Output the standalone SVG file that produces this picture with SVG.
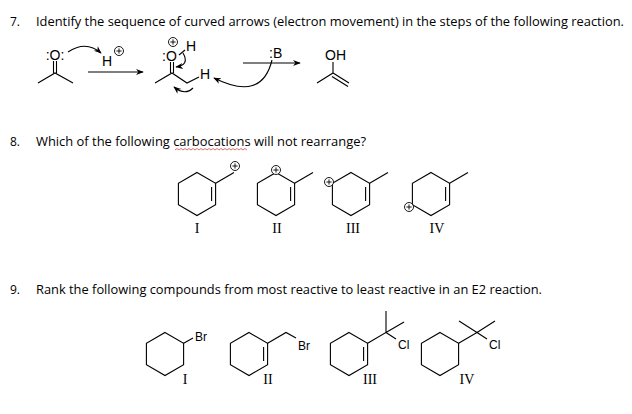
<svg xmlns="http://www.w3.org/2000/svg" width="632" height="414" viewBox="0 0 632 414">
<style>
.q{font-family:"Open Sans","Liberation Sans",sans-serif;font-size:12px;fill:#000}
.a{font-family:"Liberation Sans",Arial,sans-serif;font-size:12px;fill:#000}
.t{font-family:"Liberation Sans",Arial,sans-serif;font-size:14px;fill:#000}
.r{font-family:"Liberation Serif","Times New Roman",serif;font-size:14px;fill:#000;text-anchor:middle}
.b{fill:none;stroke:#000;stroke-width:1.1}
.pl{fill:#fff;stroke:#000;stroke-width:0.9}
</style>
<defs>
<marker id="ah" viewBox="0 0 10 10" refX="9" refY="5" markerWidth="7" markerHeight="7" orient="auto"><path d="M0,1 L10,5 L0,9 L3,5 Z" fill="#000"/></marker>
<polygon id="hex" class="b" points="0,-21.5 18.6,-10.75 18.6,10.75 0,21.5 -18.6,10.75 -18.6,-10.75"/>
<line id="db" class="b" x1="14.6" y1="-7" x2="14.6" y2="7"/>
<g id="plus"><circle class="pl" r="4.5"/><path d="M-2.6,0 H2.6 M0,-2.6 V2.6" stroke="#000" stroke-width="0.9"/></g>
</defs>
<rect width="632" height="414" fill="#fff"/>
<text class="q" x="10" y="26">7.</text>
<text class="q" x="36" y="26" textLength="588" lengthAdjust="spacingAndGlyphs">Identify the sequence of curved arrows (electron movement) in the steps of the following reaction.</text>
<text class="q" x="10" y="146">8.</text>
<text class="q" x="36" y="146" textLength="330" lengthAdjust="spacingAndGlyphs">Which of the following carbocations will not rearrange?</text>
<path d="M175,150 l2,-1.5 l2,1.5 l2,-1.5 l2,1.5 l2,-1.5 l2,1.5 l2,-1.5 l2,1.5 l2,-1.5 l2,1.5 l2,-1.5 l2,1.5 l2,-1.5 l2,1.5 l2,-1.5 l2,1.5 l2,-1.5 l2,1.5 l2,-1.5 l2,1.5 l2,-1.5 l2,1.5 l2,-1.5 l2,1.5 l2,-1.5 l2,1.5 l2,-1.5 l2,1.5 l2,-1.5 l2,1.5 l2,-1.5 l2,1.5 l2,-1.5 l2,1.5 l2,-1.5 l2,1.5" fill="none" stroke="#c33" stroke-width="0.7"/>
<text class="q" x="10" y="294">9.</text>
<text class="q" x="36" y="294" textLength="506" lengthAdjust="spacingAndGlyphs">Rank the following compounds from most reactive to least reactive in an E2 reaction.</text>

<g id="reaction7">
<path class="b" d="M38,83 L55,73 L73,83 M53.5,73 V61 M56.5,73 V61"/>
<text class="t" x="55" y="60" text-anchor="middle">:O:</text>
<path class="b" d="M68,52 Q86,40 101,53" marker-end="url(#ah)"/>
<text class="t" x="102" y="66">H</text>
<use href="#plus" x="119" y="51"/>
<line class="b" x1="88" y1="72" x2="143" y2="72" marker-end="url(#ah)"/>
<use href="#plus" x="173" y="42"/>
<text class="t" x="162" y="61">:O</text>
<path class="b" d="M179,55 L185,50"/>
<text class="t" x="186" y="51">H</text>
<path class="b" d="M155,83 L172,73 L187,83 L199,77 M170.5,73 V62 M173.5,73 V62"/>
<text class="t" x="200" y="79">H</text>
<path class="b" d="M183,53 Q190,65 176,67" marker-end="url(#ah)"/>
<path class="b" d="M193,88 Q185,96 174,87" marker-end="url(#ah)"/>
<text class="t" x="269" y="58">:B</text>
<line class="b" x1="243" y1="63" x2="300" y2="63" marker-end="url(#ah)"/>
<path class="b" d="M272,60 Q262,102 214,78" marker-end="url(#ah)"/>
<text class="t" x="325" y="60">OH</text>
<path class="b" d="M317,83 L333,73 L349,83 M333,73 V62 M332,76.5 L348,86.5"/>
</g>

<g id="c8-I"><use href="#hex" x="197" y="194"/><use href="#db" x="197" y="194"/><line class="b" x1="215.6" y1="183.25" x2="234" y2="172.5"/><use href="#plus" x="235" y="166"/><text class="r" x="197" y="233">I</text></g>
<g id="c8-II"><use href="#hex" x="276" y="194"/><use href="#db" x="276" y="194"/><line class="b" x1="294.6" y1="183.25" x2="313" y2="172.5"/><use href="#plus" x="276" y="170"/><text class="r" x="277" y="233">II</text></g>
<g id="c8-III"><use href="#hex" x="351" y="194"/><use href="#db" x="351" y="194"/><line class="b" x1="369.6" y1="183.25" x2="388" y2="172.5"/><use href="#plus" x="329" y="182"/><text class="r" x="353" y="233">III</text></g>
<g id="c8-IV"><use href="#hex" x="431" y="194"/><use href="#db" x="431" y="194"/><line class="b" x1="449.6" y1="183.25" x2="468" y2="172.5"/><use href="#plus" x="409" y="207"/><text class="r" x="437" y="233">IV</text></g>

<g id="c9-I"><use href="#hex" x="165" y="354"/><line class="b" x1="183.6" y1="343.25" x2="193" y2="338"/><text class="a" x="195" y="341">Br</text><text class="r" x="185" y="384">I</text></g>
<g id="c9-II"><use href="#hex" x="249" y="354"/><use href="#db" x="249" y="354"/><path class="b" d="M267.6,343.25 L286,332.5 L296,338"/><text class="a" x="298" y="350">Br</text><text class="r" x="268" y="384">II</text></g>
<g id="c9-III"><use href="#hex" x="349" y="354"/><use href="#db" x="349" y="354"/><path class="b" d="M367.6,343.25 L386,332.5 L386,311 M386,332.5 L404,322 M386,332.5 L396,339"/><text class="a" x="398" y="349">Cl</text><text class="r" x="370" y="384">III</text></g>
<g id="c9-IV"><use href="#hex" x="440" y="354"/><path class="b" d="M458.6,343.25 L477,332.5 L459,321 M477,332.5 L495,321 M477,332.5 L487,339"/><text class="a" x="489" y="349">Cl</text><text class="r" x="467" y="384">IV</text></g>
</svg>
